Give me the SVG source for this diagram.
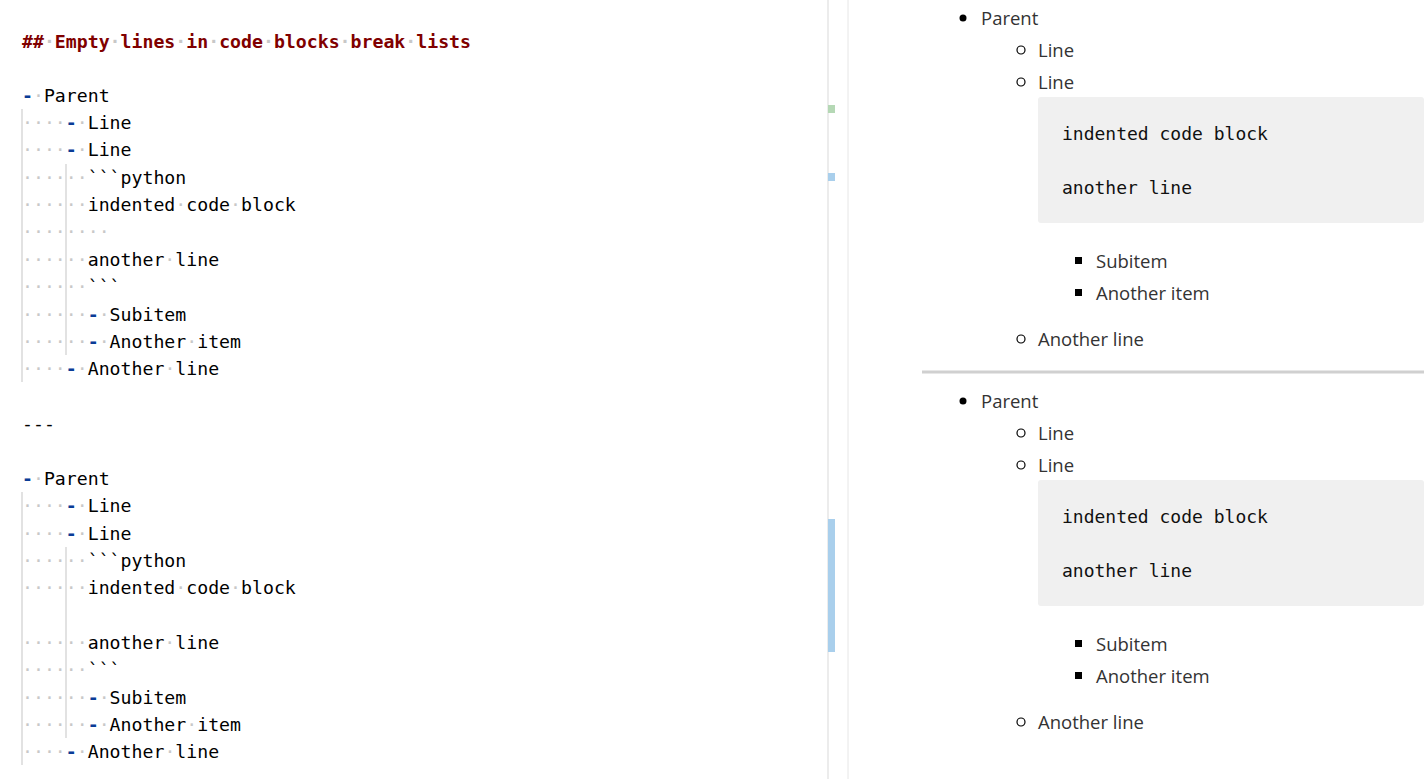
<svg xmlns="http://www.w3.org/2000/svg" width="1424" height="779" viewBox="0 0 1424 779">
<style>
.m{font-family:"DejaVu Sans Mono","Liberation Mono",monospace;font-size:18.2px;fill:#000}
.d{fill:#c8c8c8}
.b{fill:#0a3c96;font-weight:bold}
.h{fill:#800000;font-weight:bold}
.r{font-family:"Open Sans","Noto Sans",sans-serif;font-size:18.5px;fill:#333}
.c{font-family:"DejaVu Sans Mono","Liberation Mono",monospace;font-size:18px;fill:#111}
.g{stroke:#d8d8d8;stroke-width:1.5}
</style>
<rect width="1424" height="779" fill="#fff"/>
<g id="editor" xml:space="preserve" transform="translate(0,1)">
<text class="m h" x="22" y="47">##<tspan class="d">·</tspan>Empty<tspan class="d">·</tspan>lines<tspan class="d">·</tspan>in<tspan class="d">·</tspan>code<tspan class="d">·</tspan>blocks<tspan class="d">·</tspan>break<tspan class="d">·</tspan>lists</text>
<g id="block1">
<text class="m" x="22" y="101"><tspan class="b">-</tspan><tspan class="d">·</tspan>Parent</text>
<text class="m" x="22" y="128"><tspan class="d">····</tspan><tspan class="b">-</tspan><tspan class="d">·</tspan>Line</text>
<text class="m" x="22" y="155"><tspan class="d">····</tspan><tspan class="b">-</tspan><tspan class="d">·</tspan>Line</text>
<text class="m" x="22" y="183"><tspan class="d">······</tspan>```python</text>
<text class="m" x="22" y="210"><tspan class="d">······</tspan>indented<tspan class="d">·</tspan>code<tspan class="d">·</tspan>block</text>
<text class="m" x="22" y="237"><tspan class="d">········</tspan></text>
<text class="m" x="22" y="265"><tspan class="d">······</tspan>another<tspan class="d">·</tspan>line</text>
<text class="m" x="22" y="292"><tspan class="d">······</tspan>```</text>
<text class="m" x="22" y="320"><tspan class="d">······</tspan><tspan class="b">-</tspan><tspan class="d">·</tspan>Subitem</text>
<text class="m" x="22" y="347"><tspan class="d">······</tspan><tspan class="b">-</tspan><tspan class="d">·</tspan>Another<tspan class="d">·</tspan>item</text>
<text class="m" x="22" y="374"><tspan class="d">····</tspan><tspan class="b">-</tspan><tspan class="d">·</tspan>Another<tspan class="d">·</tspan>line</text>
<line class="g" x1="22" y1="108" x2="22" y2="381"/>
<line class="g" x1="66" y1="163" x2="66" y2="354"/>
</g>
<text class="m" x="22" y="429">---</text>
<g id="block2">
<text class="m" x="22" y="484"><tspan class="b">-</tspan><tspan class="d">·</tspan>Parent</text>
<text class="m" x="22" y="511"><tspan class="d">····</tspan><tspan class="b">-</tspan><tspan class="d">·</tspan>Line</text>
<text class="m" x="22" y="539"><tspan class="d">····</tspan><tspan class="b">-</tspan><tspan class="d">·</tspan>Line</text>
<text class="m" x="22" y="566"><tspan class="d">······</tspan>```python</text>
<text class="m" x="22" y="593"><tspan class="d">······</tspan>indented<tspan class="d">·</tspan>code<tspan class="d">·</tspan>block</text>
<text class="m" x="22" y="648"><tspan class="d">······</tspan>another<tspan class="d">·</tspan>line</text>
<text class="m" x="22" y="675"><tspan class="d">······</tspan>```</text>
<text class="m" x="22" y="703"><tspan class="d">······</tspan><tspan class="b">-</tspan><tspan class="d">·</tspan>Subitem</text>
<text class="m" x="22" y="730"><tspan class="d">······</tspan><tspan class="b">-</tspan><tspan class="d">·</tspan>Another<tspan class="d">·</tspan>item</text>
<text class="m" x="22" y="757"><tspan class="d">····</tspan><tspan class="b">-</tspan><tspan class="d">·</tspan>Another<tspan class="d">·</tspan>line</text>
<line class="g" x1="22" y1="491" x2="22" y2="764"/>
<line class="g" x1="66" y1="546" x2="66" y2="737"/>
</g>
</g>
<g id="gutter">
<line x1="828" y1="0" x2="828" y2="779" stroke="#e6e6e6" stroke-width="1.5"/>
<line x1="848" y1="0" x2="848" y2="779" stroke="#e6e6e6" stroke-width="1"/>
<rect x="828" y="105" width="7" height="8" fill="#b5d8b5"/>
<rect x="828" y="173" width="7" height="8" fill="#a9cfec"/>
<rect x="828" y="519" width="7" height="133" fill="#a9cfec"/>
</g>
<g id="preview1">
<circle cx="963" cy="18" r="3.5" fill="#000"/><text class="r" x="981" y="25">Parent</text>
<circle cx="1021" cy="50" r="4" fill="none" stroke="#000" stroke-width="1.2"/><text class="r" x="1038" y="57">Line</text>
<circle cx="1021" cy="82" r="4" fill="none" stroke="#000" stroke-width="1.2"/><text class="r" x="1038" y="89">Line</text>
<rect x="1038" y="97" width="386" height="126" rx="3" fill="#f0f0f0"/>
<text class="c" x="1062" y="140">indented code block</text>
<text class="c" x="1062" y="194">another line</text>
<rect x="1075" y="257" width="7" height="7" fill="#000"/><text class="r" x="1096" y="268">Subitem</text>
<rect x="1075" y="289" width="7" height="7" fill="#000"/><text class="r" x="1096" y="300">Another item</text>
<circle cx="1021" cy="339" r="4" fill="none" stroke="#000" stroke-width="1.2"/><text class="r" x="1038" y="346">Another line</text>
</g>
<line x1="922" y1="372" x2="1424" y2="372" stroke="#d0d0d0" stroke-width="3"/>
<g id="preview2" transform="translate(0,383)">
<circle cx="963" cy="18" r="3.5" fill="#000"/><text class="r" x="981" y="25">Parent</text>
<circle cx="1021" cy="50" r="4" fill="none" stroke="#000" stroke-width="1.2"/><text class="r" x="1038" y="57">Line</text>
<circle cx="1021" cy="82" r="4" fill="none" stroke="#000" stroke-width="1.2"/><text class="r" x="1038" y="89">Line</text>
<rect x="1038" y="97" width="386" height="126" rx="3" fill="#f0f0f0"/>
<text class="c" x="1062" y="140">indented code block</text>
<text class="c" x="1062" y="194">another line</text>
<rect x="1075" y="257" width="7" height="7" fill="#000"/><text class="r" x="1096" y="268">Subitem</text>
<rect x="1075" y="289" width="7" height="7" fill="#000"/><text class="r" x="1096" y="300">Another item</text>
<circle cx="1021" cy="339" r="4" fill="none" stroke="#000" stroke-width="1.2"/><text class="r" x="1038" y="346">Another line</text>
</g>
</svg>
